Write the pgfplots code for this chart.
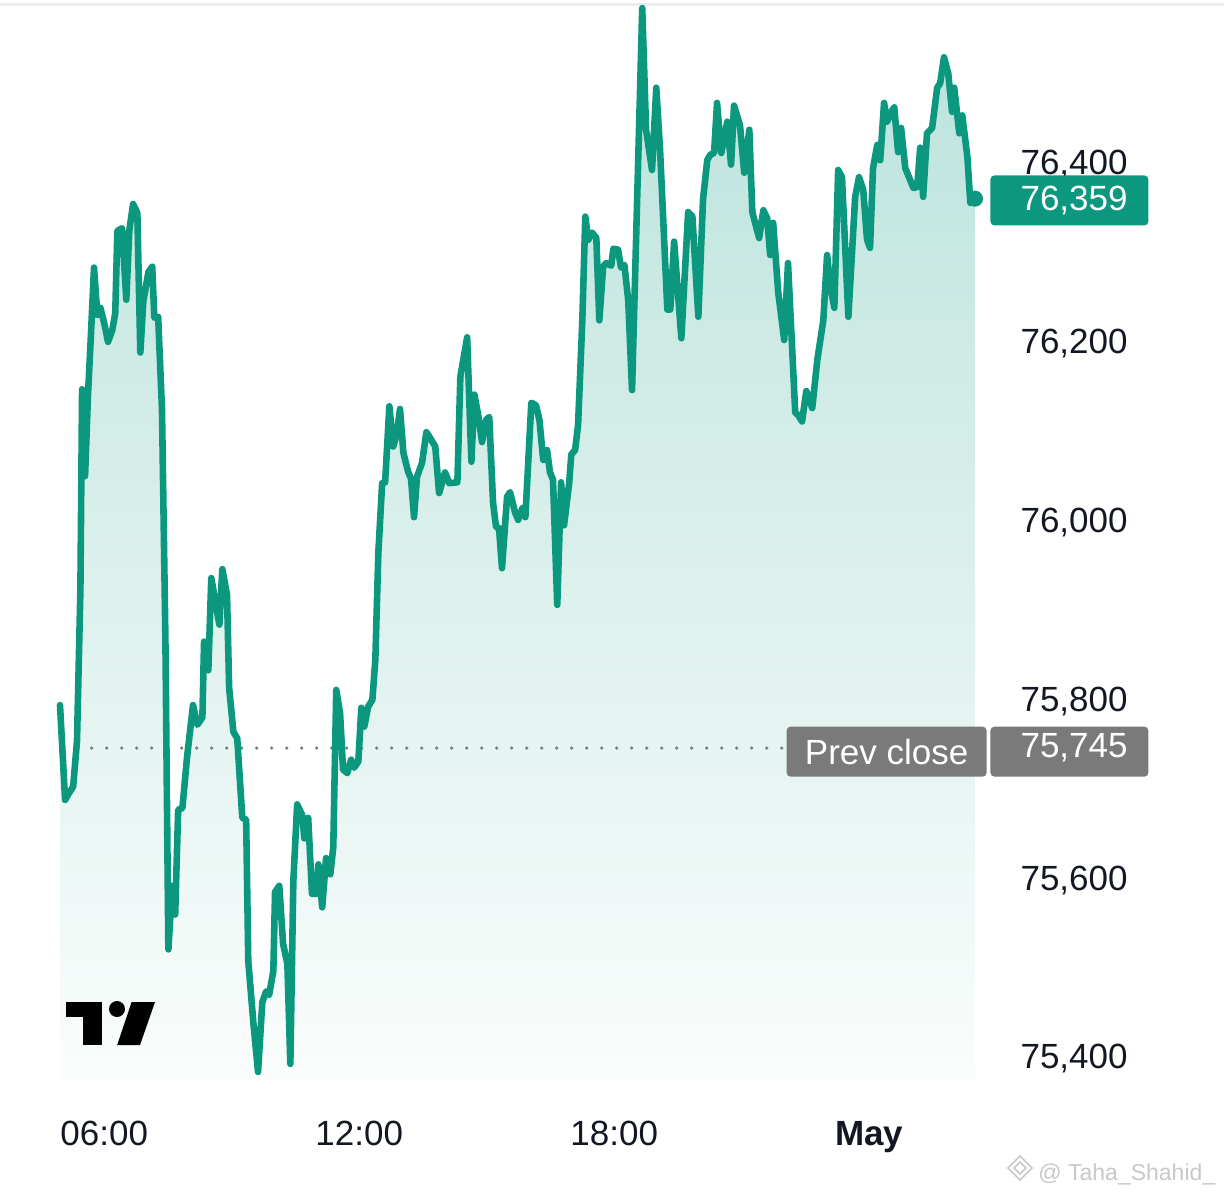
\documentclass[border=0pt]{standalone}
\usepackage{pgfplots}
\pgfplotsset{compat=1.18}
\usepackage{pgfplotstable}
\usepackage{fontspec}
\setmainfont{Liberation Sans}

\definecolor{tvgreen}{RGB}{12,152,127}
\definecolor{tvfilltop}{RGB}{186,226,219}
\definecolor{tvfillbot}{RGB}{250,253,252}
\definecolor{tvgray}{RGB}{122,122,122}
\definecolor{tvdots}{RGB}{125,128,128}
\definecolor{tvtext}{RGB}{19,23,34}
\definecolor{wmark}{RGB}{200,200,200}

% hours since midnight (24 = May 1st 00:00), price
\pgfplotstableread{
h v
4.96 75793
5.08 75687
5.15 75693
5.27 75702
5.36 75753
5.44 75922
5.48 76146
5.55 76049
5.62 76141
5.69 76209
5.76 76282
5.84 76229
5.91 76237
6.00 76220
6.09 76199
6.19 76212
6.26 76231
6.31 76323
6.42 76326
6.52 76246
6.59 76323
6.68 76353
6.78 76343
6.85 76187
6.92 76244
7.04 76277
7.13 76283
7.18 76226
7.27 76227
7.36 76123
7.44 75867
7.51 75520
7.60 75591
7.67 75559
7.74 75676
7.84 75678
7.95 75735
8.09 75793
8.19 75771
8.31 75779
8.35 75864
8.45 75832
8.52 75935
8.61 75910
8.71 75883
8.78 75945
8.89 75916
8.94 75812
9.04 75763
9.13 75756
9.25 75667
9.34 75665
9.39 75507
9.51 75438
9.62 75383
9.72 75461
9.81 75473
9.88 75469
9.98 75496
10.02 75584
10.12 75591
10.21 75526
10.31 75504
10.38 75392
10.45 75596
10.54 75682
10.66 75670
10.71 75644
10.80 75667
10.89 75582
10.99 75582
11.04 75615
11.13 75567
11.22 75622
11.32 75604
11.39 75634
11.46 75810
11.55 75784
11.62 75721
11.72 75717
11.81 75732
11.88 75723
11.98 75730
12.05 75790
12.12 75769
12.21 75791
12.31 75799
12.38 75844
12.45 75963
12.54 76041
12.61 76042
12.71 76127
12.80 76082
12.89 76097
12.96 76124
13.04 76075
13.15 76054
13.22 76046
13.29 76003
13.36 76048
13.48 76064
13.58 76098
13.65 76093
13.79 76082
13.88 76030
14.02 76053
14.12 76041
14.31 76042
14.38 76160
14.54 76204
14.64 76065
14.71 76140
14.80 76117
14.89 76087
14.99 76112
15.06 76115
15.15 76019
15.22 75992
15.29 75991
15.36 75946
15.48 76026
15.55 76031
15.67 76008
15.74 76000
15.84 76013
15.91 76003
16.05 76131
16.16 76128
16.24 76112
16.33 76067
16.42 76078
16.49 76053
16.56 76045
16.66 75905
16.75 76042
16.82 75994
16.94 76041
16.99 76073
17.08 76078
17.15 76106
17.25 76223
17.32 76339
17.39 76313
17.48 76321
17.58 76315
17.65 76223
17.74 76283
17.81 76287
17.93 76284
17.98 76303
18.09 76302
18.16 76282
18.24 76285
18.33 76246
18.42 76145
18.54 76358
18.66 76572
18.75 76436
18.89 76391
18.99 76483
19.08 76413
19.25 76235
19.32 76235
19.41 76311
19.58 76203
19.74 76344
19.84 76339
19.98 76227
20.09 76358
20.19 76402
20.26 76408
20.35 76410
20.42 76466
20.52 76410
20.66 76445
20.75 76397
20.82 76463
20.96 76441
21.06 76388
21.18 76436
21.25 76344
21.41 76315
21.51 76346
21.60 76337
21.67 76296
21.74 76332
21.86 76254
22.00 76201
22.09 76287
22.26 76120
22.33 76117
22.42 76110
22.52 76144
22.66 76125
22.78 76179
22.92 76223
23.01 76296
23.08 76263
23.18 76237
23.27 76391
23.36 76383
23.51 76227
23.67 76361
23.76 76383
23.86 76369
23.95 76313
24.02 76304
24.09 76393
24.19 76419
24.26 76402
24.35 76466
24.42 76445
24.52 76456
24.59 76461
24.68 76411
24.75 76438
24.85 76393
24.92 76385
25.04 76371
25.13 76372
25.20 76416
25.27 76361
25.36 76432
25.48 76438
25.60 76483
25.67 76488
25.76 76517
25.86 76499
25.95 76456
26.00 76483
26.12 76432
26.19 76452
26.31 76406
26.38 76354
26.49 76359
}\btcdata

\begin{document}
\begin{tikzpicture}
\path[use as bounding box] (0,0) rectangle (612pt,-598pt);
\draw[gray!15, line width=1.5pt] (0,-2pt) -- (612pt,-2pt);

\begin{axis}[
  at={(30pt,-540pt)}, anchor=south west,
  scale only axis, width=457.5pt, height=540pt,
  xmin=4.96, xmax=26.49, ymin=75374, ymax=76581,
  clip=false,
  axis line style={draw=none}, tick style={draw=none}, major tick length=0pt,
  tick label style={font=\fontsize{17.5pt}{20pt}\selectfont, text=tvtext},
  xtick={6,12,18,24},
  xticklabels={06:00,12:00,18:00,\textbf{May}},
  xticklabel style={anchor=base, yshift=-32.5pt},
  ytick={75400,75600,75800,76000,76200,76400},
  yticklabels={{75,400},{75,600},{75,800},{76,000},{76,200},{76,400}},
  yticklabel pos=right,
  yticklabel style={anchor=east, text depth=0pt, inner sep=0pt, xshift=76.5pt},
]
% area under the price line
\addplot[draw=none, top color=tvfilltop, bottom color=tvfillbot] table[x=h,y=v] {\btcdata} \closedcycle;
% previous close
\addplot[tvdots, line width=1.8pt, line cap=round, dash pattern=on 0pt off 7.5pt] coordinates {(5.0,75745) (22.02,75745)};
% price line
\addplot[tvgreen, line width=3.3pt, line join=round, line cap=round] table[x=h,y=v] {\btcdata};
\addplot[only marks, mark=*, mark size=3.8pt, tvgreen] coordinates {(26.49,76359)};

% last price tag
\node[fill=tvgreen, rounded corners=2pt, minimum width=79pt, minimum height=25pt, inner sep=0pt, anchor=west]
  at (axis cs:26.49,76357) [xshift=7.5pt] {};
\node[anchor=east, text depth=0pt, inner sep=0pt, text=white, font=\fontsize{17.5pt}{20pt}\selectfont]
  at (axis cs:26.49,76359) [xshift=76.5pt] {76,359};
% previous close tags
\node[fill=tvgray, rounded corners=2pt, minimum width=100pt, minimum height=25pt, inner sep=0pt, anchor=east,
  text=white, font=\fontsize{17.5pt}{20pt}\selectfont]
  at (axis cs:26.49,75741) [xshift=6pt] {Prev close};
\node[fill=tvgray, rounded corners=2pt, minimum width=79pt, minimum height=25pt, inner sep=0pt, anchor=west]
  at (axis cs:26.49,75741) [xshift=7.5pt] {};
\node[anchor=east, text depth=0pt, inner sep=0pt, text=white, font=\fontsize{17.5pt}{20pt}\selectfont]
  at (axis cs:26.49,75748) [xshift=76.5pt] {75,745};
\end{axis}

% TradingView logo
\fill[black] (33pt,-501pt) rectangle (51pt,-508.5pt);
\fill[black] (41.5pt,-501pt) rectangle (51pt,-522.5pt);
\fill[black] (58.5pt,-504.5pt) circle (4pt);
\fill[black] (65.8pt,-501pt) -- (77.5pt,-501pt) -- (70pt,-522.5pt) -- (58.6pt,-522.5pt) -- cycle;

% watermark
\draw[wmark, line width=0.8pt] (510pt,-578pt) -- (516pt,-584pt) -- (510pt,-590pt) -- (504pt,-584pt) -- cycle;
\draw[wmark, line width=0.8pt] (510pt,-581pt) -- (513pt,-584pt) -- (510pt,-587pt) -- (507pt,-584pt) -- cycle;
\node[anchor=base west, inner sep=0pt, text=wmark, font=\fontsize{11.5pt}{14pt}\selectfont] at (519pt,-590pt) {@ Taha\_Shahid\_};
\end{tikzpicture}
\end{document}
